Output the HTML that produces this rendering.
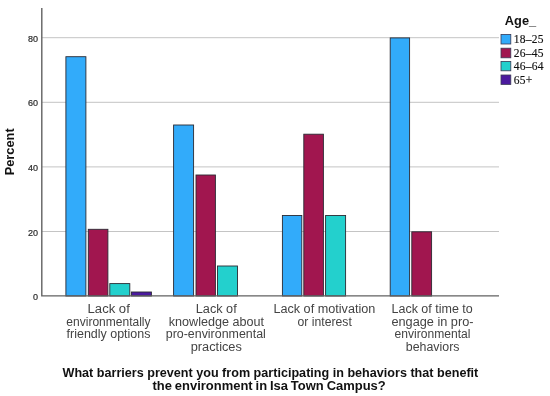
<!DOCTYPE html>
<html>
<head>
<meta charset="utf-8">
<title>Chart</title>
<style>
html,body{margin:0;padding:0;background:#fff;}
body{width:550px;height:396px;overflow:hidden;}
svg{display:block;}
.ax{font-family:"Liberation Sans",Arial,sans-serif;font-size:9px;fill:#2a2a2a;stroke:#2a2a2a;stroke-width:0.2;}
.cat{font-family:"Liberation Sans",Arial,sans-serif;font-size:12.3px;fill:#444;}
.ttl{font-family:"Liberation Sans",Arial,sans-serif;font-size:12.4px;font-weight:bold;fill:#111;}
.leg{font-family:"Liberation Serif","Times New Roman",serif;font-size:11.5px;fill:#111;stroke:#111;stroke-width:0.15;letter-spacing:0.25px;}
.bar{stroke:#2a2a33;stroke-width:0.9;}
</style>
</head>
<body>
<svg width="550" height="396" viewBox="0 0 550 396">
<rect width="550" height="396" fill="#ffffff"/>
<!-- gridlines -->
<g stroke="#c4c4c4" stroke-width="1">
<line x1="42" y1="37.7" x2="499" y2="37.7"/>
<line x1="42" y1="102.3" x2="499" y2="102.3"/>
<line x1="42" y1="166.9" x2="499" y2="166.9"/>
<line x1="42" y1="231.5" x2="499" y2="231.5"/>
</g>
<!-- bars -->
<g class="bar">
<rect x="65.9" y="56.7" width="20" height="239.3" fill="#32abfa"/>
<rect x="88.3" y="229.3" width="19.6" height="66.7" fill="#a1164f"/>
<rect x="109.8" y="283.6" width="20" height="12.4" fill="#23d0cd"/>
<rect x="131.4" y="292" width="20" height="4" fill="#4b1a9e"/>

<rect x="173.6" y="125" width="20" height="171" fill="#32abfa"/>
<rect x="196" y="175" width="19.4" height="121" fill="#a1164f"/>
<rect x="217.5" y="266" width="20" height="30" fill="#23d0cd"/>

<rect x="282.4" y="215.5" width="19.4" height="80.5" fill="#32abfa"/>
<rect x="303.8" y="134.2" width="19.6" height="161.8" fill="#a1164f"/>
<rect x="325.6" y="215.5" width="20" height="80.5" fill="#23d0cd"/>

<rect x="390.2" y="37.9" width="19.4" height="258.1" fill="#32abfa"/>
<rect x="411.8" y="231.8" width="19.8" height="64.2" fill="#a1164f"/>
</g>
<!-- axes -->
<g stroke="#626262" stroke-width="1.4" fill="none">
<path d="M41.8 8 V295.9 H499"/>
</g>
<!-- y tick labels -->
<g class="ax" text-anchor="end">
<text x="38" y="41.8">80</text>
<text x="38" y="106.4">60</text>
<text x="38" y="171">40</text>
<text x="38" y="235.6">20</text>
<text x="38" y="300.1">0</text>
</g>
<!-- y title -->
<text class="ttl" transform="translate(14.1,175.3) rotate(-90)" textLength="47" lengthAdjust="spacingAndGlyphs">Percent</text>
<text class="cat" x="87.56" y="313.3" textLength="42.27" lengthAdjust="spacingAndGlyphs">Lack of</text>
<text class="cat" x="66.36" y="325.8" textLength="84.14" lengthAdjust="spacingAndGlyphs">environmentally</text>
<text class="cat" x="66.64" y="338.2" textLength="83.83" lengthAdjust="spacingAndGlyphs">friendly options</text>
<text class="cat" x="195.78" y="313.3" textLength="40.95" lengthAdjust="spacingAndGlyphs">Lack of</text>
<text class="cat" x="168.78" y="325.8" textLength="95.17" lengthAdjust="spacingAndGlyphs">knowledge about</text>
<text class="cat" x="165.78" y="338.2" textLength="100.05" lengthAdjust="spacingAndGlyphs">pro-environmental</text>
<text class="cat" x="190.78" y="351.0" textLength="51.10" lengthAdjust="spacingAndGlyphs">practices</text>
<text class="cat" x="273.42" y="313.3" textLength="101.89" lengthAdjust="spacingAndGlyphs">Lack of motivation</text>
<text class="cat" x="297.58" y="325.8" textLength="54.22" lengthAdjust="spacingAndGlyphs">or interest</text>
<text class="cat" x="391.50" y="313.3" textLength="81.25" lengthAdjust="spacingAndGlyphs">Lack of time to</text>
<text class="cat" x="391.42" y="325.8" textLength="82.07" lengthAdjust="spacingAndGlyphs">engage in pro-</text>
<text class="cat" x="394.58" y="338.2" textLength="75.81" lengthAdjust="spacingAndGlyphs">environmental</text>
<text class="cat" x="405.78" y="351.0" textLength="53.71" lengthAdjust="spacingAndGlyphs">behaviors</text>
<text class="ttl" x="62.50" y="376.9" textLength="415.83" lengthAdjust="spacingAndGlyphs">What barriers prevent you from participating in behaviors that benefit</text>
<text class="ttl" style="word-spacing:-0.7px" x="152.50" y="390.1" textLength="233.26" lengthAdjust="spacingAndGlyphs">the environment in Isa Town Campus?</text>
<text class="ttl" x="504.86" y="24.7" textLength="31.25" lengthAdjust="spacingAndGlyphs">Age_</text>
<g stroke="#3a3a55" stroke-width="0.8">
<rect x="501" y="34.4" width="9.8" height="9.6" fill="#32abfa"/>
<rect x="501" y="48.2" width="9.8" height="9.6" fill="#a1164f"/>
<rect x="501" y="61.4" width="9.8" height="9.4" fill="#23d0cd"/>
<rect x="501" y="75" width="9.8" height="9.4" fill="#4b1a9e"/>
</g>
<g class="leg">
<text x="513.8" y="43.2">18–25</text>
<text x="513.8" y="56.9">26–45</text>
<text x="513.8" y="70.2">46–64</text>
<text x="513.8" y="83.8">65+</text>
</g>
</svg>
</body>
</html>
